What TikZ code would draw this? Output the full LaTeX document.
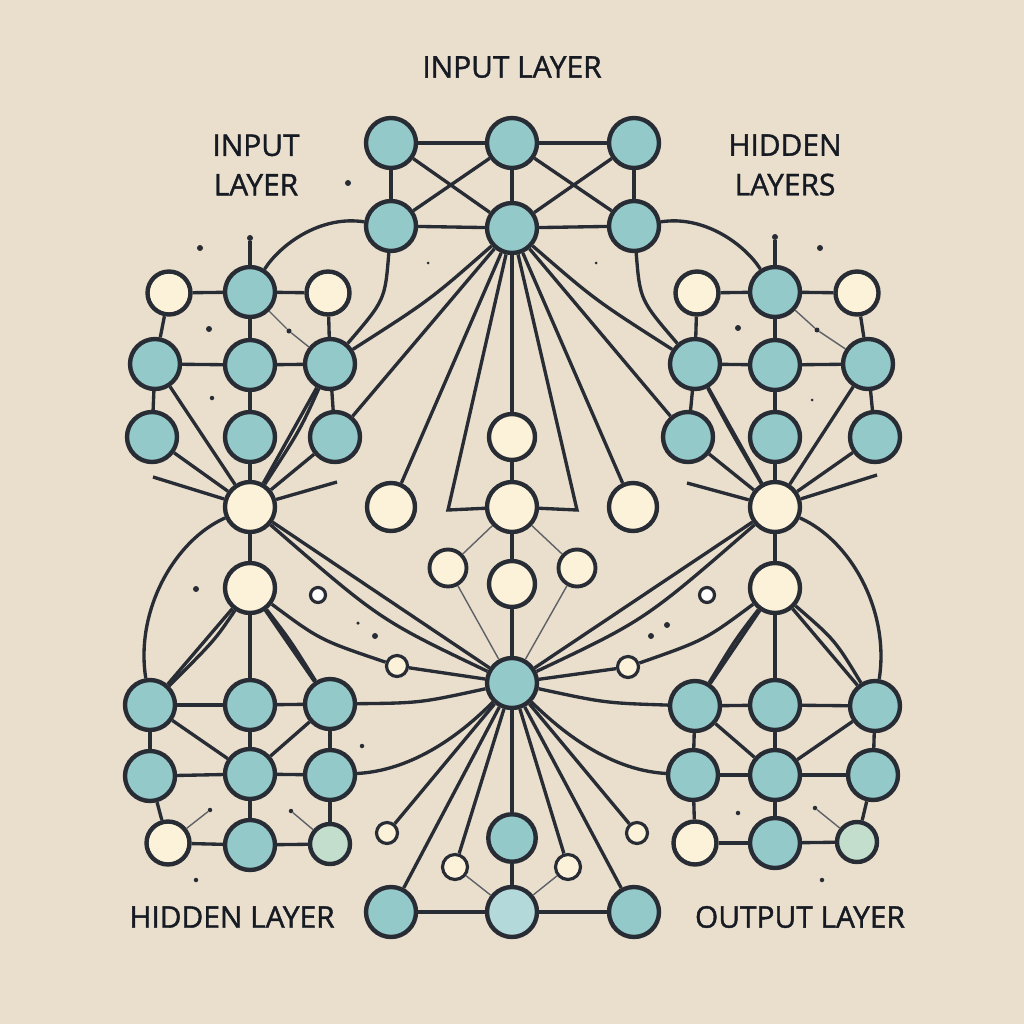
\documentclass[tikz,border=0pt]{standalone}
\usepackage{fontspec}
\setmainfont{Open Sans}
\newfontfamily\lblfont{Open Sans}[FakeBold=1.3]
\usetikzlibrary{positioning}

\definecolor{bgc}{RGB}{234,223,205}
\definecolor{tealc}{RGB}{148,201,202}
\definecolor{creamc}{RGB}{252,242,217}
\definecolor{palec}{RGB}{196,222,206}
\definecolor{inkc}{RGB}{40,44,52}
\definecolor{textc}{RGB}{22,26,34}

\tikzset{node distance=1cm,
  tn/.style={circle,draw=inkc,fill=tealc,line width=2.5pt,minimum size=1cm,inner sep=0pt},
  cn/.style={circle,draw=inkc,fill=creamc,line width=2.5pt,minimum size=0.86cm,inner sep=0pt},
  hn/.style={cn,minimum size=1cm},
  mn/.style={cn,minimum size=0.74cm,line width=2.2pt},
  sn/.style={circle,draw=inkc,fill=creamc,line width=1.8pt,minimum size=0.42cm,inner sep=0pt},
  wn/.style={sn,fill=white,minimum size=0.3cm},
  dotn/.style={circle,fill=inkc,inner sep=0pt,minimum size=0.12cm},
  lnk/.style={draw=inkc,line width=1.9pt},
  fine/.style={draw=inkc!75,line width=0.8pt},
  lbl/.style={font=\lblfont\fontsize{17}{22.5}\selectfont,text=textc,align=center,inner sep=0pt}}

\begin{document}
\begin{tikzpicture}[x=0.02cm,y=-0.02cm]
  \useasboundingbox (0,0) rectangle (1024,1024);
  \fill[bgc] (0,0) rectangle (1024,1024);

  % labels
  \node[lbl] (ttop) at (512,67) {INPUT LAYER};
  \node[lbl] (tinl) at (256,165) {INPUT\\LAYER};
  \node[lbl] (thid) at (785,165) {HIDDEN\\LAYERS};
  \node[lbl] (thl) at (232,917) {HIDDEN LAYER};
  \node[lbl] (tout) at (800,917) {OUTPUT LAYER};

  % input block
  \node[tn] (t1) at (391,143) {};
  \node[tn] (t2) at (512,143) {};
  \node[tn] (t3) at (634,143) {};
  \node[tn] (t4) at (391,226) {};
  \node[tn] (t5) at (512,228) {};
  \node[tn] (t6) at (634,226) {};

  % left upper block
  \node[cn] (la1) at (169,293) {};
  \node[tn] (la2) at (250,292) {};
  \node[cn] (la3) at (328,293) {};
  \node[tn] (la4) at (155,364) {};
  \node[tn] (la5) at (250,365) {};
  \node[tn] (la6) at (330,364) {};
  \node[tn] (la7) at (152,437) {};
  \node[tn] (la8) at (250,437) {};
  \node[tn] (la9) at (335,437) {};
  \node[hn] (lah) at (250,507) {};

  % right upper block
  \node[cn] (ra1) at (697,293) {};
  \node[tn] (ra2) at (775,292) {};
  \node[cn] (ra3) at (857,293) {};
  \node[tn] (ra4) at (695,364) {};
  \node[tn] (ra5) at (775,365) {};
  \node[tn] (ra6) at (868,364) {};
  \node[tn] (ra7) at (688,437) {};
  \node[tn] (ra8) at (775,437) {};
  \node[tn] (ra9) at (875,437) {};
  \node[hn] (rah) at (775,507) {};

  % centre column
  \node[cn,minimum size=0.92cm] (cm1) at (512,437) {};
  \node[hn] (cm2) at (512,507) {};
  \node[cn,minimum size=0.92cm] (cm3) at (512,584) {};
  \node[cn,minimum size=0.96cm] (cl) at (391,507) {};
  \node[cn,minimum size=0.96cm] (cr) at (633,507) {};
  \node[mn] (sc1) at (448,568) {};
  \node[mn] (sc2) at (577,568) {};
  \coordinate (bkl) at (448,510);
  \coordinate (bkr) at (577,510);

  % middle hub
  \node[tn] (mh) at (512,683) {};
  \node[sn] (sl) at (397,666) {};
  \node[sn] (sr) at (628,667) {};
  \node[wn] (wl) at (318,595) {};
  \node[wn] (wr) at (707,595) {};

  % left lower block
  \node[hn] (lbh) at (250,588) {};
  \node[tn] (lb1) at (150,705) {};
  \node[tn] (lb2) at (250,705) {};
  \node[tn] (lb3) at (330,704) {};
  \node[tn] (lb4) at (150,776) {};
  \node[tn] (lb5) at (250,774) {};
  \node[tn] (lb6) at (330,775) {};
  \node[cn] (lb7) at (168,843) {};
  \node[tn] (lb8) at (250,845) {};
  \node[tn,fill=palec,minimum size=0.8cm] (lb9) at (330,844) {};

  % right lower block
  \node[hn] (rbh) at (775,588) {};
  \node[tn] (rb1) at (695,706) {};
  \node[tn] (rb2) at (775,705) {};
  \node[tn] (rb3) at (875,706) {};
  \node[tn] (rb4) at (693,775) {};
  \node[tn] (rb5) at (775,775) {};
  \node[tn] (rb6) at (873,775) {};
  \node[cn] (rb7) at (695,843) {};
  \node[tn] (rb8) at (775,843) {};
  \node[tn,fill=palec,minimum size=0.8cm] (rb9) at (857,842) {};

  % output row
  \node[sn] (s1) at (387,833) {};
  \node[sn,minimum size=0.5cm] (s2) at (455,867) {};
  \node[tn,minimum size=0.95cm] (bt) at (512,838) {};
  \node[sn,minimum size=0.5cm] (s3) at (568,867) {};
  \node[sn] (s4) at (637,833) {};
  \node[tn] (bl) at (391,912) {};
  \node[tn,fill=tealc!70!white] (bm) at (512,912) {};
  \node[tn] (br) at (634,912) {};

  % dots
  \node[dotn] (d1) at (348,183) {};
  \node[dotn] (d2) at (200,248) {};
  \node[dotn] (d3) at (209,329) {};
  \node[dotn,minimum size=0.09cm] (d4) at (212,398) {};
  \node[dotn] (d5) at (820,248) {};
  \node[dotn] (d6) at (738,328) {};
  \node[dotn,minimum size=0.06cm] (d7) at (812,400) {};
  \node[dotn] (d8) at (196,589) {};
  \node[dotn,minimum size=0.07cm] (d9) at (358,623) {};
  \node[dotn] (d10) at (375,636) {};
  \node[dotn] (d11) at (651,636) {};
  \node[dotn] (d12) at (667,625) {};
  \node[dotn,minimum size=0.09cm] (d13) at (362,746) {};
  \node[dotn,minimum size=0.09cm] (d14) at (738,813) {};
  \node[dotn,minimum size=0.09cm] (d15) at (196,880) {};
  \node[dotn,minimum size=0.09cm] (d16) at (822,880) {};
  \node[dotn,minimum size=0.06cm] (d17) at (428,263) {};
  \node[dotn,minimum size=0.06cm] (d18) at (596,263) {};
  \node[dotn] (ul) at (250,238) {};
  \node[dotn] (ur) at (775,237) {};
  \node[dotn,minimum size=0.1cm] (fl) at (289,331) {};
  \node[dotn,minimum size=0.1cm] (fr) at (817,330) {};
  \node[dotn,minimum size=0.09cm] (ql) at (210,810) {};
  \node[dotn,minimum size=0.09cm] (qr) at (291,811) {};
  \node[dotn,minimum size=0.09cm] (qs) at (815,808) {};
  \coordinate (lfl) at (153,477);
  \coordinate (lfr) at (337,482);
  \coordinate (rfl) at (687,483);
  \coordinate (rfr) at (877,475);

  % links input block
  \draw[lnk] (t1) -- (t2);
  \draw[lnk] (t2) -- (t3);
  \draw[lnk] (t4) -- (t5);
  \draw[lnk] (t5) -- (t6);
  \draw[lnk] (t1) -- (t4);
  \draw[lnk] (t2) -- (t5);
  \draw[lnk] (t3) -- (t6);
  \draw[lnk] (t1) -- (t5);
  \draw[lnk] (t2) -- (t4);
  \draw[lnk] (t2) -- (t6);
  \draw[lnk] (t3) -- (t5);
  \draw[lnk] (t4) .. controls (320,215) and (280,245) .. (la2);
  \draw[lnk] (t4) .. controls (385,300) .. (la6);
  \draw[lnk] (t6) .. controls (705,215) and (745,245) .. (ra2);
  \draw[lnk] (t6) .. controls (640,300) .. (ra4);

  % fan from t5
  \draw[lnk] (t5) .. controls (430,300) .. (la6);
  \draw[lnk] (t5) -- (la9);
  \draw[lnk] (t5) -- (cl);
  \draw[lnk] (t5) -- (bkl) -- (cm2);
  \draw[lnk] (t5) -- (cm1);
  \draw[lnk] (t5) -- (bkr) -- (cm2);
  \draw[lnk] (t5) -- (cr);
  \draw[lnk] (t5) -- (ra7);
  \draw[lnk] (t5) .. controls (595,300) .. (ra4);

  % links left upper block
  \draw[lnk] (la1) -- (la2);
  \draw[lnk] (la2) -- (la3);
  \draw[lnk] (la4) -- (la5);
  \draw[lnk] (la5) -- (la6);
  \draw[lnk] (la1) -- (la4);
  \draw[lnk] (la2) -- (la5);
  \draw[lnk] (la3) -- (la6);
  \draw[lnk] (la4) -- (la7);
  \draw[lnk] (la5) -- (la8);
  \draw[lnk] (la6) -- (la9);
  \draw[lnk] (la4) -- (lah);
  \draw[lnk] (la6) -- (lah);
  \draw[lnk] (la6) .. controls (300,430) .. (lah);
  \draw[lnk] (la7) -- (lah);
  \draw[lnk] (la8) -- (lah);
  \draw[lnk] (la9) -- (lah);
  \draw[lnk] (lah) -- (lfl);
  \draw[lnk] (lah) -- (lfr);
  \draw[lnk] (ul) -- (la2);
  \draw[fine] (la2) -- (fl) -- (la6);

  % links right upper block
  \draw[lnk] (ra1) -- (ra2);
  \draw[lnk] (ra2) -- (ra3);
  \draw[lnk] (ra4) -- (ra5);
  \draw[lnk] (ra5) -- (ra6);
  \draw[lnk] (ra1) -- (ra4);
  \draw[lnk] (ra2) -- (ra5);
  \draw[lnk] (ra3) -- (ra6);
  \draw[lnk] (ra4) -- (ra7);
  \draw[lnk] (ra5) -- (ra8);
  \draw[lnk] (ra6) -- (ra9);
  \draw[lnk] (ra4) -- (rah);
  \draw[lnk] (ra4) .. controls (730,430) .. (rah);
  \draw[lnk] (ra6) -- (rah);
  \draw[lnk] (ra7) -- (rah);
  \draw[lnk] (ra8) -- (rah);
  \draw[lnk] (ra9) -- (rah);
  \draw[lnk] (rah) -- (rfl);
  \draw[lnk] (rah) -- (rfr);
  \draw[lnk] (ur) -- (ra2);
  \draw[fine] (ra2) -- (fr) -- (ra6);

  % centre column
  \draw[lnk] (cm1) -- (cm2);
  \draw[lnk] (cm2) -- (cm3);
  \draw[lnk] (cm3) -- (mh);
  \draw[fine] (cm2) -- (sc1);
  \draw[fine] (cm2) -- (sc2);
  \draw[fine] (sc1) -- (mh);
  \draw[fine] (sc2) -- (mh);

  % hubs to middle
  \draw[lnk] (lah) -- (lbh);
  \draw[lnk] (rah) -- (rbh);
  \draw[lnk] (lah) -- (mh);
  \draw[lnk] (lah) .. controls (380,620) .. (mh);
  \draw[lnk] (rah) -- (mh);
  \draw[lnk] (rah) .. controls (645,620) .. (mh);
  \draw[lnk] (lbh) .. controls (320,640) .. (sl);
  \draw[lnk] (sl) -- (mh);
  \draw[lnk] (rbh) .. controls (705,640) .. (sr);
  \draw[lnk] (sr) -- (mh);
  \draw[lnk] (lah) .. controls (175,540) and (135,610) .. (lb1);
  \draw[lnk] (rah) .. controls (850,540) and (890,610) .. (rb3);
  \draw[lnk] (lb3) .. controls (420,703) .. (mh);
  \draw[lnk] (lb6) .. controls (420,770) and (470,725) .. (mh);
  \draw[lnk] (rb1) .. controls (605,703) .. (mh);
  \draw[lnk] (rb4) .. controls (605,770) and (555,725) .. (mh);

  % links left lower block
  \draw[lnk] (lbh) -- (lb2);
  \draw[lnk] (lbh) -- (lb1);
  \draw[lnk] (lbh) .. controls (215,640) .. (lb1);
  \draw[lnk] (lbh) -- (lb3);
  \draw[lnk] (lbh) .. controls (290,640) .. (lb3);
  \draw[lnk] (lb1) -- (lb2);
  \draw[lnk] (lb2) -- (lb3);
  \draw[lnk] (lb4) -- (lb5);
  \draw[lnk] (lb5) -- (lb6);
  \draw[lnk] (lb7) -- (lb8);
  \draw[lnk] (lb8) -- (lb9);
  \draw[lnk] (lb1) -- (lb4);
  \draw[lnk] (lb2) -- (lb5);
  \draw[lnk] (lb3) -- (lb6);
  \draw[lnk] (lb4) -- (lb7);
  \draw[lnk] (lb5) -- (lb8);
  \draw[lnk] (lb6) -- (lb9);
  \draw[lnk] (lb1) -- (lb5);
  \draw[lnk] (lb3) -- (lb5);
  \draw[fine] (lb7) -- (ql);
  \draw[fine] (qr) -- (lb9);

  % links right lower block
  \draw[lnk] (rbh) -- (rb2);
  \draw[lnk] (rbh) -- (rb3);
  \draw[lnk] (rbh) .. controls (835,640) .. (rb3);
  \draw[lnk] (rbh) -- (rb1);
  \draw[lnk] (rbh) .. controls (735,640) .. (rb1);
  \draw[lnk] (rb1) -- (rb2);
  \draw[lnk] (rb2) -- (rb3);
  \draw[lnk] (rb4) -- (rb5);
  \draw[lnk] (rb5) -- (rb6);
  \draw[lnk] (rb7) -- (rb8);
  \draw[lnk] (rb8) -- (rb9);
  \draw[lnk] (rb1) -- (rb4);
  \draw[lnk] (rb2) -- (rb5);
  \draw[lnk] (rb3) -- (rb6);
  \draw[lnk] (rb4) -- (rb7);
  \draw[lnk] (rb5) -- (rb8);
  \draw[lnk] (rb6) -- (rb9);
  \draw[lnk] (rb1) -- (rb5);
  \draw[lnk] (rb3) -- (rb5);
  \draw[fine] (qs) -- (rb9);

  % fan from middle hub
  \draw[lnk] (mh) -- (s1);
  \draw[lnk] (mh) -- (s2);
  \draw[lnk] (mh) -- (bt);
  \draw[lnk] (mh) -- (s3);
  \draw[lnk] (mh) -- (s4);
  \draw[lnk] (mh) -- (bl);
  \draw[lnk] (mh) -- (br);
  \draw[lnk] (bl) -- (bm);
  \draw[lnk] (bm) -- (br);
  \draw[lnk] (bt) -- (bm);
  \draw[fine] (s2) -- (bm);
  \draw[fine] (s3) -- (bm);
\end{tikzpicture}
\end{document}
